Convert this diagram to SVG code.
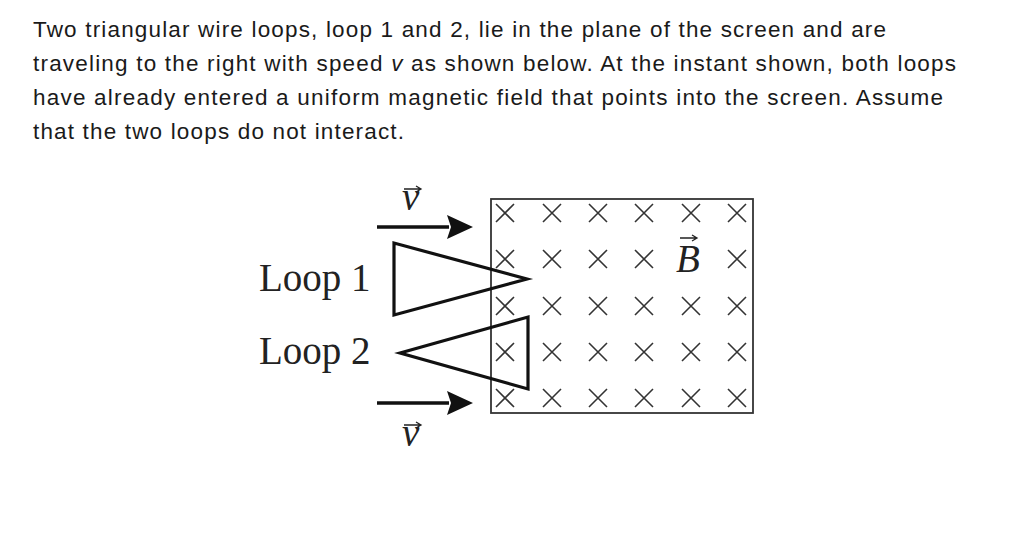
<svg xmlns="http://www.w3.org/2000/svg" width="1024" height="536" viewBox="0 0 1024 536">
<defs>
<style>
.t{font-family:"Liberation Sans",Arial,sans-serif;font-size:22.5px;fill:#1a1a1a}
.s{font-family:"Liberation Serif","Times New Roman",serif;font-size:39px;fill:#222}
.x{stroke:#333;stroke-width:1.6;fill:none}
.loop{fill:none;stroke:#111;stroke-width:3.2;stroke-linejoin:miter}
</style>
<g id="xm"><path class="x" d="M-9,-9L9,9M-9,9L9,-9"/></g>
<marker id="ah" markerWidth="26" markerHeight="24" refX="2" refY="12" orient="auto" markerUnits="userSpaceOnUse" viewBox="0 0 26 24"><path d="M0,0L26,12L0,24L4,12Z" fill="#111"/></marker>
</defs>
<rect width="1024" height="536" fill="#fff"/>
<g id="text">
<text class="t" x="33" y="37" textLength="853" lengthAdjust="spacing">Two triangular wire loops, loop 1 and 2, lie in the plane of the screen and are</text>
<text class="t" x="33" y="71" textLength="923" lengthAdjust="spacing">traveling to the right with speed <tspan font-style="italic">v</tspan> as shown below. At the instant shown, both loops</text>
<text class="t" x="33" y="105" textLength="910" lengthAdjust="spacing">have already entered a uniform magnetic field that points into the screen. Assume</text>
<text class="t" x="33" y="139" textLength="371" lengthAdjust="spacing">that the two loops do not interact.</text>
</g>
<g id="field">
<rect x="491" y="199" width="262" height="214" fill="none" stroke="#333" stroke-width="1.8"/>
<g>
<use href="#xm" x="505" y="213"/><use href="#xm" x="552" y="213"/><use href="#xm" x="598" y="213"/><use href="#xm" x="644" y="213"/><use href="#xm" x="691" y="213"/><use href="#xm" x="737" y="213"/>
<use href="#xm" x="505" y="259"/><use href="#xm" x="552" y="259"/><use href="#xm" x="598" y="259"/><use href="#xm" x="644" y="259"/><use href="#xm" x="737" y="259"/>
<use href="#xm" x="505" y="306"/><use href="#xm" x="552" y="306"/><use href="#xm" x="598" y="306"/><use href="#xm" x="644" y="306"/><use href="#xm" x="691" y="306"/><use href="#xm" x="737" y="306"/>
<use href="#xm" x="505" y="352"/><use href="#xm" x="552" y="352"/><use href="#xm" x="598" y="352"/><use href="#xm" x="644" y="352"/><use href="#xm" x="691" y="352"/><use href="#xm" x="737" y="352"/>
<use href="#xm" x="505" y="398"/><use href="#xm" x="552" y="398"/><use href="#xm" x="598" y="398"/><use href="#xm" x="644" y="398"/><use href="#xm" x="691" y="398"/><use href="#xm" x="737" y="398"/>
</g>
<text class="s" x="676" y="272" font-style="italic" font-size="34">B</text>
<path d="M680,238L696,238M692,235L697,238L692,241" stroke="#222" stroke-width="1.3" fill="none"/>
</g>
<g id="loop1">
<polygon class="loop" points="394,243 394,315 527,279"/>
<text class="s" x="259" y="291">Loop 1</text>
</g>
<g id="loop2">
<polygon class="loop" points="400,353 528,317 528,389"/>
<text class="s" x="259" y="364">Loop 2</text>
</g>
<g id="connectors">
<line x1="377" y1="227" x2="449" y2="227" stroke="#111" stroke-width="3.5" marker-end="url(#ah)"/>
<line x1="377" y1="403" x2="449" y2="403" stroke="#111" stroke-width="3.5" marker-end="url(#ah)"/>
</g>
<g id="vlabels">
<text class="s" x="402" y="210" font-style="italic" font-size="30">v</text>
<path d="M404,189L420,189M416,186L421,189L416,192" stroke="#222" stroke-width="1.3" fill="none"/>
<text class="s" x="402" y="446" font-style="italic" font-size="30">v</text>
<path d="M404,425L420,425M416,422L421,425L416,428" stroke="#222" stroke-width="1.3" fill="none"/>
</g>
</svg>
